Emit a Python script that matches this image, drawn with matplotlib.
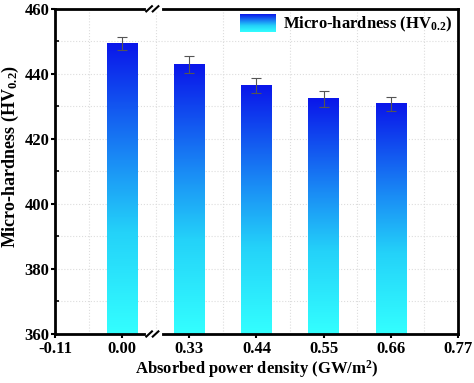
import matplotlib
matplotlib.use("Agg")
import matplotlib.pyplot as plt
import numpy as np
from matplotlib.colors import LinearSegmentedColormap

plt.rcParams["font.family"] = ["Liberation Serif", "DejaVu Serif"]
plt.rcParams["font.weight"] = "bold"
plt.rcParams["mathtext.fontset"] = "custom"
plt.rcParams["mathtext.rm"] = "Liberation Serif:bold"
plt.rcParams["mathtext.it"] = "Liberation Serif:bold"
plt.rcParams["mathtext.bf"] = "Liberation Serif:bold"

tick_labels = ["-0.11", "0.00", "0.33", "0.44", "0.55", "0.66", "0.77"]
bar_labels = ["0.00", "0.33", "0.44", "0.55", "0.66"]
hardness = [449.2, 443.0, 436.4, 432.3, 430.8]
hardness_err = [2.0, 2.6, 2.3, 2.4, 2.2]

cmap = LinearSegmentedColormap.from_list(
    "hv", [(0.0, "#33ffff"), (0.35, "#24d2f9"), (0.6, "#1a8cf5"), (1.0, "#0a16ea")])
grad = np.linspace(0, 1, 256).reshape(-1, 1)

fig = plt.figure(figsize=(4.74, 3.83), dpi=100)
ax = fig.add_axes([0.116, 0.128, 0.850, 0.849])

pos = [tick_labels.index(lbl) for lbl in bar_labels]
width = 0.45
ymin, ymax = 360, 460
for x, v in zip(pos, hardness):
    ax.imshow(grad, cmap=cmap, origin="lower", aspect="auto",
              extent=(x - width / 2, x + width / 2, ymin, v), zorder=2)
ax.errorbar(pos, hardness, yerr=hardness_err, fmt="none", ecolor="#555555",
            elinewidth=0.8, capsize=3.5, capthick=0.8, zorder=3)

ax.set_xlim(0, len(tick_labels) - 1)
ax.set_ylim(ymin, ymax)
ax.set_xticks(range(len(tick_labels)))
ax.set_xticklabels(tick_labels)
ax.set_xticks(np.arange(0.5, len(tick_labels) - 1, 1), minor=True)
ax.set_yticks(np.arange(360, 461, 20))
ax.set_yticks(np.arange(370, 460, 20), minor=True)
ax.grid(which="minor", axis="x", color="#dddddd", linestyle=":", linewidth=0.8, zorder=0)
ax.grid(which="both", axis="y", color="#dddddd", linestyle=":", linewidth=0.8, zorder=0)
ax.set_axisbelow(True)
ax.tick_params(axis="both", which="major", labelsize=12, width=1.5, length=3,
               direction="out")
ax.tick_params(axis="y", which="major", pad=1)
ax.tick_params(axis="x", which="major", pad=2)
ax.tick_params(axis="x", which="minor", length=0)
ax.tick_params(axis="y", which="minor", width=1.2, length=3, direction="in")
for s in ax.spines.values():
    s.set_linewidth(2)

ax.set_xlabel("Absorbed power density (GW/m$^2$)", fontsize=12, fontweight="bold", labelpad=1)
ax.set_ylabel("Micro-hardness (HV$_{0.2}$)", fontsize=13, fontweight="bold")
ax.yaxis.set_label_coords(-0.085, 0.545)

# axis break marks between 0.00 and 0.33
bx = 1.45 / 6
for yy in (0, 1):
    ax.plot([bx - 0.012, bx + 0.018], [yy, yy], transform=ax.transAxes,
            color="white", linewidth=3, clip_on=False, zorder=5)
    for dx in (-0.008, 0.008):
        ax.plot([bx + dx - 0.007, bx + dx + 0.007], [yy - 0.008, yy + 0.008],
                transform=ax.transAxes, color="black", linewidth=1.5,
                clip_on=False, zorder=6)

# legend with gradient swatch
ax.imshow(grad, cmap=cmap, origin="lower", aspect="auto",
          extent=(0.459, 0.546, 0.929, 0.982), transform=ax.transAxes, zorder=4)
ax.text(0.566, 0.953, "Micro-hardness (HV$_{0.2}$)", transform=ax.transAxes,
        fontsize=12, fontweight="bold", va="center", ha="left", zorder=4)
ax.set_xlim(0, len(tick_labels) - 1)
ax.set_ylim(ymin, ymax)

fig.savefig("out.png", dpi=100)
